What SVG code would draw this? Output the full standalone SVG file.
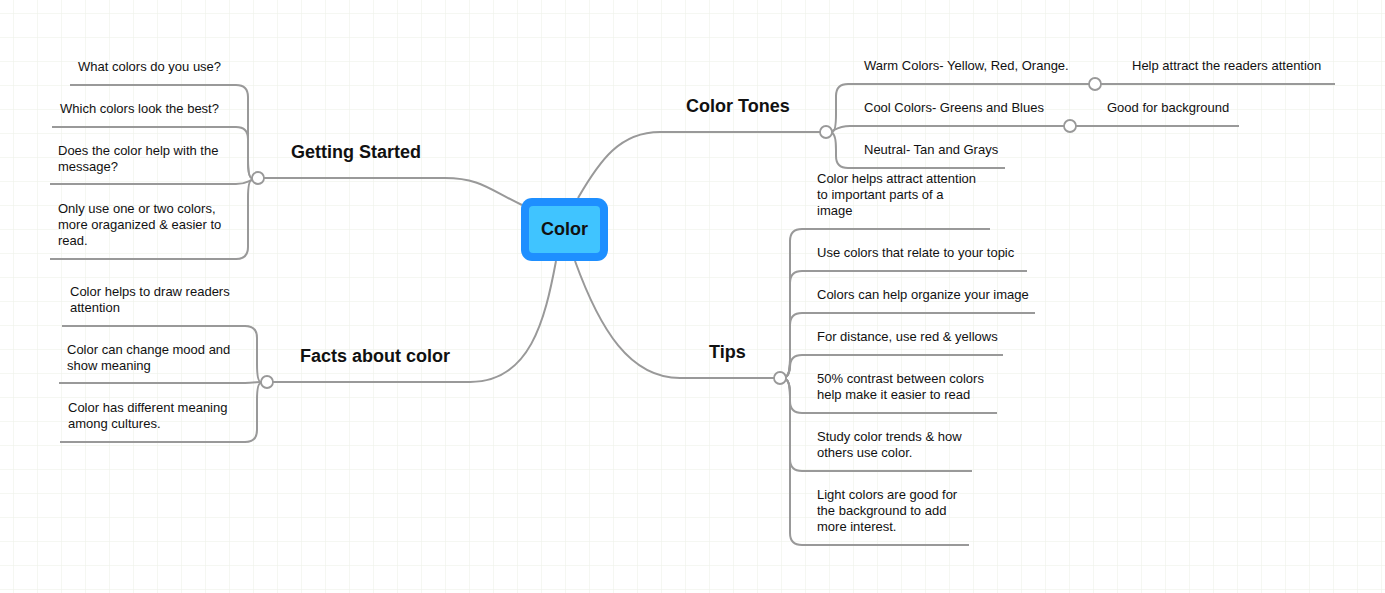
<svg xmlns="http://www.w3.org/2000/svg" width="1385" height="593" viewBox="0 0 1385 593">
<defs>
<pattern id="grid" x="13" y="13" width="24" height="24" patternUnits="userSpaceOnUse">
<path d="M0 0H24M0 0V24" fill="none" stroke="#ecefe6" stroke-width="1"/>
</pattern>
</defs>
<style>
.c{fill:none;stroke:#999;stroke-width:2}
.k{fill:#fff;stroke:#999;stroke-width:1.8}
.t{font-family:"Liberation Sans",Arial,sans-serif;font-size:13px;fill:#111}
.h{font-family:"Liberation Sans",Arial,sans-serif;font-size:18px;font-weight:bold;fill:#111}
</style>
<rect width="1385" height="593" fill="#fff"/>
<rect width="1385" height="593" fill="url(#grid)"/>
<g id="connectors">
<path class="c" d="M522,205 C490,190 480,178 445,178 L258,178"/>
<path class="c" d="M252,178 C249,178 248,170 248,160 L248,97 Q248,85 236,85 L70,85"/>
<path class="c" d="M252,178 C249,178 248,170 248,160 L248,139 Q248,127 236,127 L52,127"/>
<path class="c" d="M252,180 C248,181 246,184 236,184 L50,184"/>
<path class="c" d="M252,180 C249,180 248,188 248,198 L248,247 Q248,259 236,259 L50,259"/>
<path class="c" d="M556,261 C545,320 530,382 470,382 L267,382"/>
<path class="c" d="M261,382 C258,382 257,374 257,364 L257,338 Q257,326 245,326 L62,326"/>
<path class="c" d="M261,382 C258,382 252,383 245,383 L59,383"/>
<path class="c" d="M261,383 C258,383 257,390 257,400 L257,430 Q257,442 245,442 L60,442"/>
<path class="c" d="M578,198 C600,160 620,132 660,132 L826,132"/>
<path class="c" d="M832,132 C835,132 836,124 836,114 L836,96 Q836,84 848,84 L1095,84"/>
<path class="c" d="M1101,84 L1335,84"/>
<path class="c" d="M832,131 C836,129 840,126 850,126 L1070,126"/>
<path class="c" d="M1076,126 L1239,126"/>
<path class="c" d="M832,133 C835,134 836,140 836,150 L836,156 Q836,168 848,168 L1005,168"/>
<path class="c" d="M575,261 C600,330 630,378 680,378 L780,378"/>
<path class="c" d="M782,378 C789,378 790,370 790,360 L790,241 Q790,229 802,229 L990,229"/>
<path class="c" d="M782,378 C789,378 790,370 790,360 L790,283 Q790,271 802,271 L1027,271"/>
<path class="c" d="M782,378 C789,378 790,370 790,360 L790,325 Q790,313 802,313 L1035,313"/>
<path class="c" d="M782,378 C789,378 790,370 790,365 L790,367 Q790,355 802,355 L1003,355"/>
<path class="c" d="M782,378 C789,378 790,386 790,396 L790,401 Q790,413 802,413 L997,413"/>
<path class="c" d="M782,378 C789,378 790,386 790,396 L790,459 Q790,471 802,471 L972,471"/>
<path class="c" d="M782,378 C789,378 790,386 790,396 L790,533 Q790,545 802,545 L969,545"/>
<circle class="k" cx="258" cy="178" r="6"/>
<circle class="k" cx="267" cy="382" r="6"/>
<circle class="k" cx="826" cy="132" r="6"/>
<circle class="k" cx="1095" cy="84" r="6"/>
<circle class="k" cx="1070" cy="126" r="6"/>
<circle class="k" cx="780" cy="378" r="6"/>
</g>
<g id="center">
<rect x="521" y="198" width="87" height="63" rx="11" fill="#1e8fff"/>
<rect x="529" y="206" width="71" height="47" rx="4" fill="#40c4ff"/>
<text class="h" x="564.5" y="235" text-anchor="middle">Color</text>
</g>
<g id="getting-started">
<text class="h" x="291" y="158">Getting Started</text>
<text class="t" x="78" y="71">What colors do you use?</text>
<text class="t" x="60" y="113">Which colors look the best?</text>
<text class="t" x="58" y="155">Does the color help with the</text>
<text class="t" x="58" y="171">message?</text>
<text class="t" x="58" y="213">Only use one or two colors,</text>
<text class="t" x="58" y="229">more oraganized &amp; easier to</text>
<text class="t" x="58" y="245">read.</text>
</g>
<g id="facts">
<text class="h" x="300" y="362">Facts about color</text>
<text class="t" x="70" y="296">Color helps to draw readers</text>
<text class="t" x="70" y="312">attention</text>
<text class="t" x="67" y="354">Color can change mood and</text>
<text class="t" x="67" y="370">show meaning</text>
<text class="t" x="68" y="412">Color has different meaning</text>
<text class="t" x="68" y="428">among cultures.</text>
</g>
<g id="color-tones">
<text class="h" x="686" y="112">Color Tones</text>
<text class="t" x="864" y="70">Warm Colors- Yellow, Red, Orange.</text>
<text class="t" x="1132" y="70">Help attract the readers attention</text>
<text class="t" x="864" y="112">Cool Colors- Greens and Blues</text>
<text class="t" x="1107" y="112">Good for background</text>
<text class="t" x="864" y="154">Neutral- Tan and Grays</text>
</g>
<g id="tips">
<text class="h" x="709" y="358">Tips</text>
<text class="t" x="817" y="183">Color helps attract attention</text>
<text class="t" x="817" y="199">to important parts of a</text>
<text class="t" x="817" y="215">image</text>
<text class="t" x="817" y="257">Use colors that relate to your topic</text>
<text class="t" x="817" y="299">Colors can help organize your image</text>
<text class="t" x="817" y="341">For distance, use red &amp; yellows</text>
<text class="t" x="817" y="383">50% contrast between colors</text>
<text class="t" x="817" y="399">help make it easier to read</text>
<text class="t" x="817" y="441">Study color trends &amp; how</text>
<text class="t" x="817" y="457">others use color.</text>
<text class="t" x="817" y="499">Light colors are good for</text>
<text class="t" x="817" y="515">the background to add</text>
<text class="t" x="817" y="531">more interest.</text>
</g>
</svg>
